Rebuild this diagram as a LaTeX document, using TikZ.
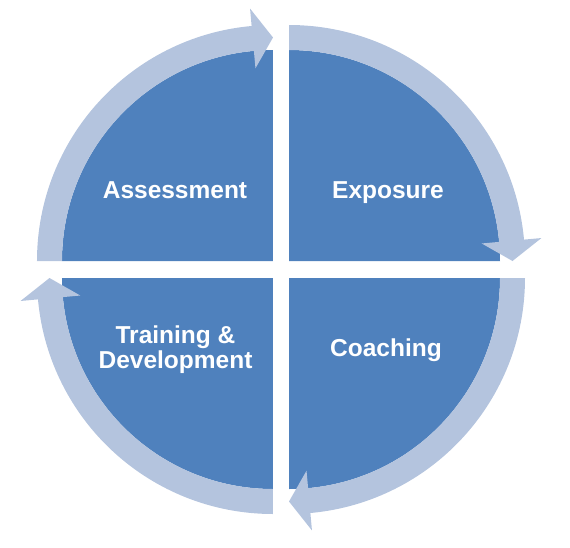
\documentclass[tikz,border=0pt]{standalone}
\usepackage{fontspec}
\setmainfont{Liberation Sans}
\usetikzlibrary{calc}
\definecolor{segblue}{RGB}{79,129,189}
\definecolor{ringblue}{RGB}{180,196,222}

\begin{document}
\begin{tikzpicture}[x=1pt,y=1pt]
\tikzstyle{quarter}=[fill=segblue]
\tikzstyle{ring}=[fill=ringblue]
\tikzstyle{txt}=[text=white,font=\fontsize{24.5}{25}\selectfont\bfseries,anchor=base,inner sep=0pt,align=center]
\useasboundingbox (-281,-277) rectangle (289,270);
% quarters, then the circular arrows on top
\foreach \cx/\cy/\a in {-8/9/90, 8/9/0, 8/-8/-90, -8/-8/-180}{
  \coordinate (c) at (\cx,\cy);
  \fill[quarter] (c) -- ++(\a:211) arc[start angle=\a, end angle=\a+90, radius=211] -- cycle;
}
\foreach \cx/\cy/\a in {-8/9/90, 8/9/0, 8/-8/-90, -8/-8/-180}{
  \coordinate (c) at (\cx,\cy);
  \fill[ring] ($(c)+(\a+90:236)$) arc[start angle=\a+90, end angle=\a+5.2, radius=236]
    -- ($(c)+(\a+5.2:253.5)$) -- ($(c)+(\a:223.5)$) -- ($(c)+(\a+5.2:193.5)$)
    -- ($(c)+(\a+5.2:211)$) arc[start angle=\a+5.2, end angle=\a+90, radius=211] -- cycle;
}
\node[txt] (assess) at (-106,72) {Assessment};
\node[txt] (expo) at (107,72) {Exposure};
\node[txt] (coach) at (105,-86) {Coaching};
\node[txt] (train) at (-105.5,-98) {Training \&\\Development};
\end{tikzpicture}
\end{document}
